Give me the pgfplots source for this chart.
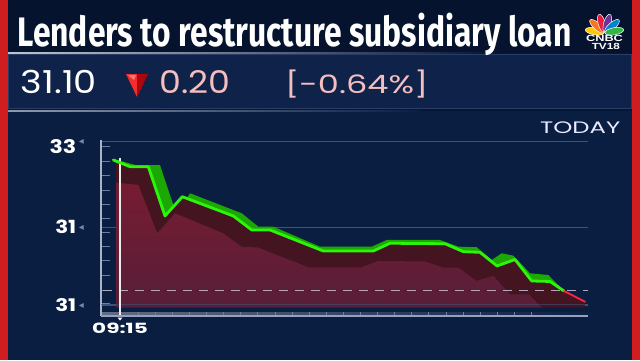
\documentclass[border=0pt]{standalone}
\usepackage{pgfplots}
\pgfplotsset{compat=1.18}
\usepackage{graphicx}
\usepackage{fontspec}
\setmainfont{Poppins}
\newfontfamily\titlefont{Fira Sans}
\newfontfamily\dejavu{DejaVu Sans}
\newfontfamily\logofont{Liberation Sans}
\definecolor{bg}{RGB}{7,22,52}
\definecolor{titlebg}{RGB}{6,19,46}
\definecolor{rowbg}{RGB}{15,35,74}
\definecolor{rowborder}{RGB}{40,62,104}
\definecolor{panelbg}{RGB}{10,30,66}
\definecolor{redstrip}{RGB}{208,30,32}
\definecolor{pinktxt}{RGB}{245,190,190}
\definecolor{gridcol}{RGB}{62,82,122}
\definecolor{axisgray}{RGB}{170,180,200}
\definecolor{tickgray}{RGB}{110,125,160}
\definecolor{trigray}{RGB}{125,135,160}
\definecolor{dashcol}{RGB}{175,170,190}
\definecolor{greendark}{RGB}{28,168,4}
\definecolor{greenbright}{RGB}{45,245,10}
\definecolor{maroon}{RGB}{68,20,32}
\definecolor{lightred1}{RGB}{118,28,50}
\definecolor{lightred2}{RGB}{88,30,56}
\definecolor{redline}{RGB}{255,35,70}
\newcommand\ylab[4]{\mbox{\raisebox{#2}{\resizebox{#3}{#4}{\bfseries #1}}\hspace{2.5pt}\raisebox{-3.3pt}{\dejavu\fontsize{10}{10}\selectfont\color{trigray}◂}}}
\begin{document}
\begin{tikzpicture}[x=1pt,y=1pt]
% backgrounds
\fill[bg] (0,0) rectangle (640,360);
\fill[titlebg] (0,307) rectangle (640,360);
\shade[left color=white!75!titlebg, right color=titlebg] (8,306.5) rectangle (500,308);
\fill[rowbg] (8,252) rectangle (632,305.5);
\draw[rowborder, line width=0.8pt] (8.4,252) rectangle (631.6,305.5);
\fill[panelbg] (8,0) rectangle (632,249);
\shade[left color=white!55!panelbg, right color=panelbg] (8,248.5) rectangle (420,249.8);
\fill[redstrip] (0,0) rectangle (8,360);
\fill[redstrip] (632,0) rectangle (640,360);
% title
\node[anchor=base west, inner sep=0pt, text=white] at (17.3,313.3)
  {\resizebox{554pt}{33.4pt}{\titlefont\bfseries Lenders to restructure subsidiary loan}};
% quote row
\node[anchor=base west, inner sep=0pt, text=white] at (20.7,266.7) {\resizebox{76pt}{23.3pt}{31.10}};
\fill[color={rgb,255:red,245;green,45;blue,45}] (126,286) -- (137,286) -- (137,263) -- cycle;
\fill[color={rgb,255:red,175;green,5;blue,15}] (137,286) -- (148,286) -- (137,263) -- cycle;
\fill[white, opacity=0.35] (128,285) -- (136,285) -- (134,280) -- cycle;
\node[anchor=base west, inner sep=0pt, text=pinktxt] at (159,266.7) {\resizebox{71pt}{23pt}{0.20}};
\node[anchor=base west, inner sep=0pt, text=pinktxt] at (285,266.7) {\resizebox{143pt}{23.6pt}{[-0.64\%]}};
% logo
\foreach \a/\c in {170/{rgb,255:red,255;green,200;blue,0},138/{rgb,255:red,245;green,120;blue,30},106/{rgb,255:red,230;green,30;blue,60},74/{rgb,255:red,110;green,50;blue,150},42/{rgb,255:red,0;green,130;blue,210},10/{rgb,255:red,50;green,180;blue,70}}{
  \fill[color=\c, draw=white, line width=0.5pt, rotate around={\a:({604.5+10*cos(\a)},{327+10*sin(\a)})}] ({604.5+10*cos(\a)},{327+10*sin(\a)}) ellipse [x radius=9.5, y radius=3.6];
}
\node[anchor=base, inner sep=0pt, text=white] at (604.5,318.6) {\resizebox{37pt}{6.3pt}{\logofont\bfseries CNBC}};
\node[anchor=base, inner sep=0pt, text=white] at (605.8,310.3) {\resizebox{28pt}{6.2pt}{\logofont\bfseries TV18}};
% TODAY
\node[anchor=base west, inner sep=0pt, text=white!92!blue] at (540,226.7) {\resizebox{80pt}{11.7pt}{TODAY}};
% glossy strip under the time axis
\shade[left color=white!35!panelbg, right color=panelbg] (101,44) rectangle (600,47.5);
% main axis
\begin{axis}[
  at={(101pt,44pt)}, anchor=south west,
  x=1pt, y=81.65pt,
  xmin=-19, xmax=468, ymin=30.865, ymax=33.02,
  enlargelimits=false,
  axis x line=none, axis y line*=left,
  y axis line style={draw=axisgray, line width=1.2pt},
  xtick=\empty,
  ytick={31,31.952,33},
  yticklabels={\ylab{31}{-6.3pt}{21pt}{13pt},\ylab{31}{-6.1pt}{21pt}{13.5pt},\ylab{33}{-12.3pt}{26.7pt}{14pt}},
  minor ytick={31.021,31.184,31.367,31.543,31.714,31.890,32.062,32.233,32.408,32.584,32.764,32.939},
  tick align=inside, major tick length=0pt, minor tick length=8.5pt,
  minor y tick style={draw=tickgray, line width=0.8pt},
  ymajorgrids, major grid style={draw=gridcol, line width=1.3pt},
  yticklabel style={anchor=base east, inner sep=0pt, xshift=-17pt, text=white},
]
% green top face of the ribbon
\addplot[draw=none, fill=greendark] coordinates {
(-6.7,32.788) (16,32.712) (40,32.712) (56.7,32.102) (70,32.368) (121.7,32.123)
(138.3,31.959) (153.3,31.959) (200,31.714) (251.7,31.714) (266.7,31.796) (320,31.796)
(338.3,31.714) (356.7,31.707) (371.7,31.551) (381.7,31.633) (393.3,31.604) (410,31.388)
(428.3,31.367) (444,31.171)
(430,31.288) (411.7,31.294) (395,31.557) (377,31.478) (360,31.645) (343.3,31.653)
(325,31.750) (270,31.756) (253.3,31.661) (203.3,31.661) (150,31.919) (131.7,31.919)
(113.3,32.090) (62.3,32.326) (45,32.090) (28.3,32.694) (10,32.694) (-6.7,32.776)};
% dark area under the price line
\addplot[draw=none, fill=maroon] coordinates {
(-4,30.967) (-4,32.762) (10,32.694) (28.3,32.694) (45,32.090) (62.3,32.326) (113.3,32.090)
(131.7,31.919) (150,31.919) (203.3,31.661) (253.3,31.661) (270,31.756) (325,31.750)
(343.3,31.653) (360,31.645) (377,31.478) (395,31.557) (411.7,31.294) (430,31.288)
(444,31.171) (465,31.040) (465,30.967)};
% front (lighter) area
\addplot[draw=none, top color=lightred1, bottom color=lightred2] coordinates {
(-4,30.967) (-4,32.498) (18.3,32.470) (37.3,31.878) (55,32.123) (103.3,31.878)
(121.7,31.714) (138,31.704) (188.3,31.462) (241.7,31.462) (258.3,31.539) (305,31.533)
(323.3,31.457) (338.3,31.457) (356.7,31.294) (373.3,31.359) (390,31.129) (409,31.129)
(421.7,30.967)};
% faint bottom grid line over the fill
\addplot[draw=gridcol, line width=1pt, opacity=0.6] coordinates {(-19,31) (468,31)};
% previous close
\addplot[draw=dashcol, line width=1.5pt, dash pattern=on 9pt off 7pt] coordinates {(-17,31.175) (468,31.175)};
% cursor at 09:15
\addplot[draw=white!85!gray, line width=1.2pt] coordinates {(0,30.865) (0,32.80)};
% price line
\addplot[draw=greenbright, line width=2.8pt, line join=round, line cap=round] coordinates {
(-6.7,32.776) (10,32.694) (28.3,32.694) (45,32.090) (62.3,32.326) (113.3,32.090)
(131.7,31.919) (150,31.919) (203.3,31.661) (253.3,31.661) (270,31.756) (325,31.750)
(343.3,31.653) (360,31.645) (377,31.478) (395,31.557) (411.7,31.294) (430,31.288)
(444,31.171)};
\addplot[draw=redline, line width=1.8pt, line cap=round] coordinates {(444,31.171) (465,31.040)};
\end{axis}
% time axis
\begin{axis}[
  at={(101pt,44pt)}, anchor=south west,
  x=1pt, y=81.65pt,
  xmin=-19, xmax=468, ymin=30.865, ymax=33.02,
  enlargelimits=false,
  axis y line=none, axis x line*=bottom,
  x axis line style={draw={rgb,255:red,150;green,160;blue,190}, line width=1.5pt},
  ytick=\empty,
  xtick={0}, xticklabels={\mbox{\resizebox{55.6pt}{10.5pt}{\bfseries 09:15}}},
  minor xtick={18.1,35.2,52.3,69.4,86.5,103.6,120.7,137.8,154.9,172,189.1,206.2,223.3,240.4,257.5,274.6,291.7,308.8,325.9,343,360.1,377.2,394.3,411.4},
  tick align=inside, major tick length=0pt, minor tick length=4pt,
  minor x tick style={draw=tickgray, line width=0.8pt},
  xticklabel style={anchor=north, inner sep=0pt, yshift=-7pt, text=white},
]
\end{axis}
\fill[white] (117.5,42.5) -- (122.5,42.5) -- (120,39.5) -- cycle;
\end{tikzpicture}
\end{document}
